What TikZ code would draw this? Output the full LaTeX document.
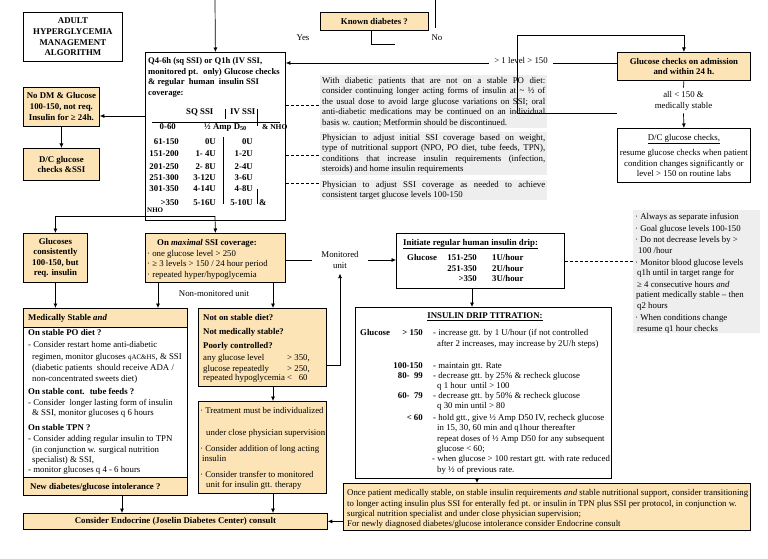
\documentclass[tikz,border=0pt]{standalone}
\usepackage{fontspec}
\setmainfont{Liberation Serif}
\usetikzlibrary{positioning,arrows.meta}
\definecolor{boxorange}{RGB}{252,228,182}
\definecolor{notegray}{RGB}{238,238,238}
\newcommand{\fs}{\fontsize{8.8}{10.5}\selectfont}
\tikzset{
  box/.style={draw, line width=0.8pt, fill=boxorange, inner sep=0pt, anchor=north west},
  wbox/.style={box, fill=white},
  gfill/.style={fill=notegray, inner sep=0pt, anchor=north west},
  gbox/.style={gfill, inner xsep=2pt, font=\fs, align=justify},
  txt/.style={font=\fs, inner sep=0pt},
  btxt/.style={font=\fs\bfseries, inner sep=0pt},
  arr/.style={-{Latex[length=4.5pt,width=4pt]}, line width=0.7pt},
  link/.style={line width=0.7pt},
  dotlink/.style={densely dashed, line width=0.6pt},
}
\begin{document}
\begin{tikzpicture}[x=1pt,y=-1pt]
\useasboundingbox (0,0) rectangle (768,559);

% top row
\node[wbox, minimum width=99pt, minimum height=49pt, align=center, font=\fontsize{8.8}{10.8}\selectfont\bfseries] (title) at (23,12) {ADULT\\HYPERGLYCEMIA\\MANAGEMENT\\ALGORITHM};
\node[box, minimum width=108pt, minimum height=18pt, font=\fs\bfseries] (known) at (320,12) {Known diabetes ?};
\node[box, minimum width=133pt, minimum height=28pt, align=center, font=\fs\bfseries] (admit) at (617,52) {Glucose checks on admission\\and within 24 h.};
\node[wbox, minimum width=133pt, minimum height=54pt, align=center, font=\fs] (dccheck) at (617,128) {\underline{D/C glucose checks,}\\[5pt]resume glucose checks when patient\\condition changes significantly or\\level > 150 on routine labs};
\node[txt] (yes) at (303,38) {Yes};
\node[txt] (no) at (437,38) {No};
\node[txt, align=center] (allless) at (683.5,101) {all < 150 \&\\medically stable};

% SSI box and table
\node[wbox, minimum width=140pt, minimum height=168pt] (ssi) at (145,52) {};
\foreach \yy/\tx [count=\i] in {64/{Q4-6h (sq SSI) or Q1h (IV SSI,}, 74.5/{monitored pt.~ only) Glucose checks}, 85/{\& regular~ human~ insulin SSI}, 95.5/{coverage:}}
  \node[btxt, font=\fontsize{8.6}{10}\selectfont\bfseries, anchor=base west] (ssih\i) at (148,\yy) {\tx};
\node[btxt, anchor=base west] (sqhead) at (186,115) {SQ SSI};
\node[btxt, anchor=base west] (ivhead) at (230,115) {IV SSI};
\draw[link] (225,109) -- (225,119);
\draw[link] (257,109) -- (257,126);
\draw[link] (152,122) -- (280,122);
\draw[link] (223,137) -- (223,204);
\draw[link] (257,189) -- (257,204);
\node[btxt, anchor=base east] (rg0) at (176,130) {0-60};
\node[btxt, anchor=base west] (amp) at (204,130) {½ Amp D\textsubscript{50}};
\node[btxt, anchor=base west, font=\fontsize{7.5}{9}\selectfont\bfseries] (nho1) at (262,130) {\& NHO};
\foreach \yy/\rg/\sq/\iv in {144/61-150/0U/0U, 157/151-200/1-~4U/1-2U, 169/201-250/2-~8U/2-4U, 180/251-300/3-12U/3-6U, 191/301-350/4-14U/4-8U, 205/>350/5-16U/5-10U}
{
  \node[btxt, anchor=base east] (rg\yy) at (179,\yy) {\rg};
  \node[btxt, anchor=base east] (sq\yy) at (216,\yy) {\sq};
  \node[btxt, anchor=base east] (iv\yy) at (253,\yy) {\iv};
}
\node[btxt, anchor=base west] (amp2) at (259,205) {\&};
\node[btxt, anchor=base west, font=\fontsize{7}{8}\selectfont\bfseries] (nho2) at (147,212) {NHO};

% left boxes
\node[box, minimum width=76pt, minimum height=39pt, align=center, font=\fontsize{8.8}{11}\selectfont\bfseries] (nodm) at (23,87) {No DM \& Glucose\\100-150, not req.\\Insulin for ≥ 24h.};
\node[box, minimum width=76pt, minimum height=32pt, align=center, font=\fs\bfseries] (dcssi) at (23,148) {D/C glucose\\checks \&SSI};

% notes
\node[gbox, text width=223pt, minimum height=53pt] (note1) at (320,75) {With diabetic patients that are not on a stable PO diet:\linebreak consider continuing longer acting forms of insulin at \textasciitilde{} ½ of\linebreak the usual dose to avoid large glucose variations on SSI; oral\linebreak anti-diabetic medications may be continued on an individual\linebreak basis w. caution; Metformin should be discontinued.};
\node[gbox, text width=223pt, minimum height=43pt] (note2) at (320,132) {Physician to adjust initial SSI coverage based on weight,\linebreak type of nutritional support (NPO, PO diet, tube feeds, TPN),\linebreak conditions that increase insulin requirements (infection,\linebreak steroids) and home insulin requirements};
\node[gbox, text width=223pt, minimum height=20pt] (note3) at (320,180) {Physician to adjust SSI coverage as needed to achieve\linebreak consistent target glucose levels 100-150};

% middle row
\node[box, minimum width=64pt, minimum height=49pt, align=center, font=\fs\bfseries] (consist) at (23,233) {Glucoses\\consistently\\100-150, but\\req. insulin};
\node[box, minimum width=140pt, minimum height=49pt] (maximal) at (145,233) {};
\node[btxt, anchor=base west] (maxhead) at (157,245) {On \textit{maximal} SSI coverage:};
\foreach \yy/\tx [count=\i] in {256/{· one glucose level > 250}, 266/{· ≥ 3 levels > 150 / 24 hour period}, 277/{· repeated hyper/hypoglycemia}}
  \node[txt, anchor=base west] (max\i) at (147,\yy) {\tx};
\node[txt, align=center] (monit) at (340,260) {Monitored\\unit};
\node[txt] (nonmon) at (214,293) {Non-monitored unit};

\node[wbox, minimum width=168pt, minimum height=55pt] (drip) at (396,233) {};
\node[btxt, anchor=base west] (driphd) at (403,245) {\underline{Initiate regular human insulin drip:}};
\node[btxt, anchor=base west] (dripglc) at (407,260) {Glucose};
\foreach \yy/\rg/\un in {260/151-250/{1U/hour}, 271/251-350/{2U/hour}, 281/>350/{3U/hour}}
{
  \node[btxt, anchor=base east] (dr\yy) at (477,\yy) {\rg};
  \node[btxt, anchor=base west] (du\yy) at (492,\yy) {\un};
}

\node[gfill, minimum width=127pt, minimum height=123pt] (notes) at (633,210) {};
\foreach \xx/\yy/\tx [count=\i] in {635/219/{· Always as separate infusion}, 635/231/{· Goal glucose levels 100-150}, 635/242/{· Do not decrease levels by >}, 638/253/{100 /hour}, 635/265/{· Monitor blood glucose levels}, 637/275/{q1h until in target range for}, 637/287/{≥ 4 consecutive hours \textit{and}}, 636/297/{patient medically stable -- then}, 637/308/{q2 hours}, 635/320/{· When conditions change}, 637/331/{resume q1 hour checks}}
  \node[txt, anchor=base west] (nt\i) at (\xx,\yy) {\tx};

% lower left
\node[wbox, minimum width=164pt, minimum height=187pt] (stable) at (23,308) {};
\node[box, minimum width=164pt, minimum height=19pt] (stablehead) at (23,308) {};
\node[box, minimum width=164pt, minimum height=18pt] (stablefoot) at (23,477) {};
\node[btxt, anchor=base west] (sthd) at (28,320) {Medically Stable \textit{and}};
\node[btxt, anchor=base west] (stft) at (30,489) {New diabetes/glucose intolerance ?};
\foreach \xx/\yy/\tx [count=\i] in {28/335/{\textbf{On stable PO diet ?}}, 28/347/{- Consider restart home anti-diabetic}, 32/359/{regimen, monitor glucoses {\fontsize{7}{8}\selectfont qAC\&HS}, \& SSI}, 32/370/{(diabetic patients~ should receive ADA /}, 32/381/{non-concentrated sweets diet)}, 28/394/{\textbf{On stable cont.~ tube feeds ?}}, 28/405/{- Consider~ longer lasting form of insulin}, 32/415/{\& SSI, monitor glucoses q 6 hours}, 28/430/{\textbf{On stable TPN ?}}, 28/441/{- Consider adding regular insulin to TPN}, 32/452/{(in conjunction w. surgical nutrition}, 32/462/{specialist) \& SSI,}, 28/472/{- monitor glucoses q 4 - 6 hours}}
  \node[txt, anchor=base west] (st\i) at (\xx,\yy) {\tx};

\node[box, minimum width=128pt, minimum height=78pt] (notstable) at (198,308) {};
\foreach \yy/\tx [count=\i] in {320/{Not on stable diet?}, 334/{Not medically stable?}, 348/{Poorly controlled?}}
  \node[btxt, anchor=base west] (ns\i) at (203,\yy) {\tx};
\foreach \yy/\tx/\vl [count=\i] in {360/{any glucose level}/{> 350,}, 371/{glucose repeatedly}/{> 250,}, 380/{repeated hypoglycemia}/{<~~~60}}
{
  \node[txt, anchor=base west] (nl\i) at (203,\yy) {\tx};
  \node[txt, anchor=base west] (nv\i) at (287,\yy) {\vl};
}

\node[box, minimum width=128pt, minimum height=92pt] (treat) at (198,401) {};
\foreach \xx/\yy/\tx [count=\i] in {200/413/{· Treatment must be individualized}, 206/435/{under close physician supervision}, 200/451/{· Consider addition of long acting}, 202/461/{insulin}, 200/477/{· Consider transfer to monitored}, 206/487/{unit for insulin gtt. therapy}}
  \node[txt, anchor=base west] (tm\i) at (\xx,\yy) {\tx};

\node[box, minimum width=304pt, minimum height=16pt, font=\fs\bfseries] (endo) at (23,513) {Consider Endocrine (Joselin Diabetes Center) consult};

% titration
\node[wbox, minimum width=256pt, minimum height=171pt] (titration) at (355,307) {};
\node[btxt] (tithd) at (485,317) {\underline{INSULIN DRIP TITRATION:}};
\node[btxt, anchor=base west] (titglc) at (360,335) {Glucose};
\foreach \yy/\rg/\tx in {335/{> 150}/{- increase gtt. by 1 U/hour (if not controlled}, 368/100-150/{- maintain gtt. Rate}, 378/80-~~99/{- decrease gtt. by 25\% \& recheck glucose}, 398/60-~~79/{- decrease gtt. by 50\% \& recheck glucose}, 420/{< 60}/{- hold gtt., give ½ Amp D50 IV, recheck glucose}}
{
  \node[btxt, anchor=base east] (tr\yy) at (423,\yy) {\rg};
  \node[txt, anchor=base west] (tt\yy) at (433,\yy) {\tx};
}
\foreach \yy/\tx in {346/{after 2 increases, may increase by 2U/h steps)}, 388/{q 1 hour~ until > 100}, 408/{q 30 min until > 80}, 430/{in 15, 30, 60 min and q1hour thereafter}, 441/{repeat doses of ½ Amp D50 for any subsequent}, 451/{glucose < 60;}, 472/{by ½ of previous rate.}}
  \node[txt, anchor=base west] (tc\yy) at (437,\yy) {\tx};
\node[txt, anchor=base west] (twhen) at (432,461) {- when glucose > 100 restart gtt. with rate reduced};

\node[box, minimum width=407pt, minimum height=47pt] (once) at (343,483) {};
\foreach \yy/\tx [count=\i] in {495/{Once patient medically stable, on stable insulin requirements \textit{and} stable nutritional support, consider transitioning}, 506/{to longer acting insulin plus SSI for enterally fed pt. or insulin in TPN plus SSI per protocol, in conjunction w.}, 516/{surgical nutrition specialist and under close physician supervision;}, 526/{For newly diagnosed diabetes/glucose intolerance consider Endocrine consult}}
  \node[txt, anchor=base west] (once\i) at (347,\yy) {\tx};

% connectors
\coordinate (yesin) at (215,0);
\coordinate (noin) at (435,0);
\coordinate (noend) at (435,28);
\coordinate (knownstub) at (395,44);
\coordinate (split) at (517,35);
\coordinate (splitend) at (617,113);
\coordinate (ssifork) at (215,216);
\draw[arr] (yesin) -- (ssi.north);
\draw[link] (noin) -- (noend);
\draw[link] ([xshift=-3pt]known.south) |- (knownstub);
\draw[arr] (split) -| (admit.north);
\draw[arr] (admit.west |- 0,63) -- (ssi.east |- 0,63);
\node[txt, fill=white, inner xsep=5pt, inner ysep=1pt] (gt150) at (521,60) {> 1 level > 150};
\draw[link] (split) |- (splitend);
\draw[link] (admit.south) -- ([yshift=4pt]allless.north);
\draw[arr] ([yshift=-3pt]allless.south) -- (dccheck.north);
\draw[arr] (ssi.west |- 0,116) -- (nodm.east |- 0,116);
\draw[arr] (nodm) -- (dcssi);
\draw[dotlink] (ssi.east |- 0,105) -- (note1.west |- 0,105);
\draw[dotlink] (ssi.east |- 0,155) -- (note2.west |- 0,155);
\draw[dotlink] (ssi.east |- 0,183) -- (note3.west |- 0,183);
\draw[arr] (ssifork) -| (consist.north);
\draw[arr] (ssifork) -- (maximal.north);
\draw[arr] (consist) -- (consist |- stable.north);
\draw[arr] (maximal.south -| 158,0) -- (stable.north -| 158,0);
\draw[arr] (maximal.south -| 273,0) -- (notstable.north -| 273,0);
\draw[link] (maximal.east |- monit) -- ([xshift=-9pt]monit.west);
\draw[arr] ([xshift=9pt]monit.east) -- (drip.west |- monit);
\draw[arr] (notstable.east |- 0,365) -| ([yshift=-5pt]monit.south);
\draw[dotlink] (drip.east) -- (notes.west |- drip.east);
\draw[arr] (drip.south -| 472,0) -- (titration.north -| 472,0);
\draw[arr] (titration.south -| 477,0) -- (once.north -| 477,0);
\draw[arr] (notstable.south -| 273,0) -- (treat.north -| 273,0);
\draw[arr] (treat.south -| 273,0) -- (endo.north -| 273,0);
\draw[arr] (stable.south -| 122,0) -- (endo.north -| 122,0);
\draw[arr] (once.west |- endo) -- (endo.east);
\end{tikzpicture}
\end{document}
